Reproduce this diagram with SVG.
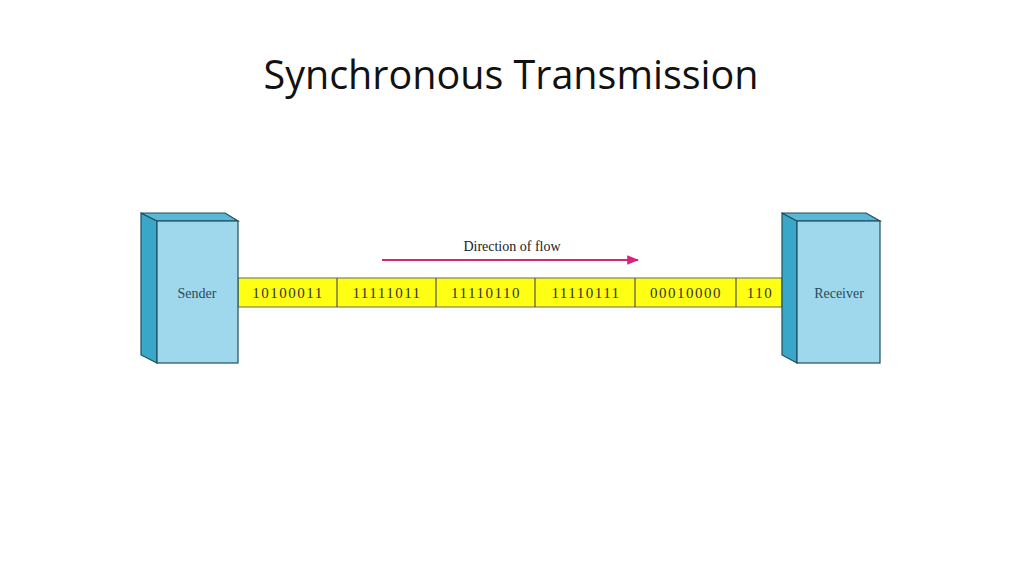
<svg xmlns="http://www.w3.org/2000/svg" width="1024" height="576" viewBox="0 0 1024 576">
<style>
.front{fill:#9fd8ec;stroke:#1f4f5f;stroke-width:1.2}
.side{fill:#3aa7c8;stroke:#1f4f5f;stroke-width:1.2}
.top{fill:#5ab8d6;stroke:#1f4f5f;stroke-width:1.2}
.lbl{font-family:"Liberation Serif",serif;font-size:14px;fill:#2a4a5a;text-anchor:middle}
.bits{font-family:"Liberation Serif",serif;font-size:15px;fill:#333;text-anchor:middle;letter-spacing:1.5px}
.div{stroke:#555;stroke-width:1.2}
</style>
<defs>
<marker id="ah" viewBox="0 0 10 10" refX="9" refY="5" markerWidth="6" markerHeight="6" orient="auto"><path d="M0,1 L10,5 L0,9 Z" fill="#d6247a"/></marker>
</defs>
<rect width="1024" height="576" fill="#fff"/>
<text x="511" y="89" font-family="Open Sans, sans-serif" font-size="39.5" fill="#111" text-anchor="middle">Synchronous Transmission</text>
<g id="link">
<rect x="238" y="278" width="544" height="29" fill="#ffff14" stroke="#666" stroke-width="1"/>
<line class="div" x1="337" y1="278" x2="337" y2="307"/>
<line class="div" x1="436" y1="278" x2="436" y2="307"/>
<line class="div" x1="535" y1="278" x2="535" y2="307"/>
<line class="div" x1="635" y1="278" x2="635" y2="307"/>
<line class="div" x1="736" y1="278" x2="736" y2="307"/>
<text class="bits" x="288" y="298">10100011</text>
<text class="bits" x="387" y="298">11111011</text>
<text class="bits" x="486" y="298">11110110</text>
<text class="bits" x="586" y="298">11110111</text>
<text class="bits" x="686" y="298">00010000</text>
<text class="bits" x="760" y="298">110</text>
</g>
<g id="sender">
<polygon class="side" points="141,213 157,221 157,363 141,355"/>
<polygon class="top" points="141,213 225,213 238,221 157,221"/>
<rect class="front" x="157" y="221" width="81" height="142"/>
<text class="lbl" x="197" y="298">Sender</text>
</g>
<g id="receiver">
<polygon class="side" points="782,213 797,221 797,363 782,355"/>
<polygon class="top" points="782,213 866,213 880,221 797,221"/>
<rect class="front" x="797" y="221" width="83" height="142"/>
<text class="lbl" x="839" y="298">Receiver</text>
</g>
<g id="connectors">
<line x1="382" y1="260" x2="638" y2="260" stroke="#d6247a" stroke-width="2" marker-end="url(#ah)"/>
<text class="lbl" x="512" y="251" style="fill:#222">Direction of flow</text>
</g>
</svg>
